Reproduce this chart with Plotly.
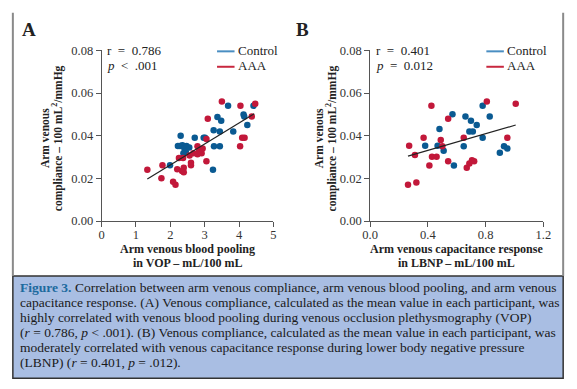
import plotly.graph_objects as go

# ---------------- data ----------------
# Panel A: arm venous blood pooling in VOP (mL/100 mL) vs compliance
a_control_x = [2.30, 2.71, 2.97, 3.01, 3.26, 3.44, 3.37, 3.48, 3.68, 4.42, 4.13, 4.15, 4.24,
               3.83, 2.22, 2.28, 2.35, 2.41, 2.47, 2.45, 2.38, 2.55, 3.27, 3.44, 1.99, 3.24]
a_control_y = [0.040, 0.039, 0.039, 0.039, 0.0425, 0.042, 0.0488, 0.047, 0.054, 0.054, 0.0499, 0.049, 0.045,
               0.042, 0.0352, 0.0352, 0.0355, 0.034, 0.0352, 0.0325, 0.0318, 0.0345, 0.035, 0.035, 0.0262, 0.024]
a_aaa_x = [1.33, 1.74, 1.77, 2.08, 2.15, 2.20, 2.39, 2.34, 2.39, 2.60, 2.60, 3.05, 3.05, 3.09, 3.50,
           4.04, 4.47, 4.37, 4.09, 4.16, 4.03, 2.79, 2.84, 2.91, 2.67, 2.56, 2.37, 2.25, 2.79, 2.94]
a_aaa_y = [0.024, 0.020, 0.0262, 0.0184, 0.017, 0.0243, 0.025, 0.0235, 0.0229, 0.0273, 0.0262, 0.028, 0.0385, 0.048, 0.056,
           0.054, 0.055, 0.049, 0.039, 0.039, 0.035, 0.035, 0.033, 0.0318, 0.0318, 0.0307, 0.0295, 0.0295, 0.0313, 0.034]
a_fit_x = [1.33, 4.44]
a_fit_y = [0.0197, 0.0503]

# Panel B: arm venous capacitance response in LBNP (mL/100 mL) vs compliance
b_control_x = [0.381, 0.467, 0.480, 0.509, 0.570, 0.580, 0.648, 0.660, 0.698, 0.687, 0.711, 0.738,
               0.779, 0.779, 0.828, 0.898, 0.927, 0.950]
b_control_y = [0.0353, 0.0353, 0.0431, 0.033, 0.050, 0.026, 0.0351, 0.049, 0.047, 0.042, 0.042, 0.045,
               0.039, 0.054, 0.049, 0.032, 0.035, 0.034]
b_aaa_x = [0.262, 0.320, 0.270, 0.310, 0.370, 0.410, 0.424, 0.428, 0.460, 0.489, 0.500, 0.540, 0.540,
           0.648, 0.669, 0.687, 0.705, 0.720, 0.808, 0.950, 1.008]
b_aaa_y = [0.017, 0.018, 0.0353, 0.031, 0.039, 0.026, 0.054, 0.0301, 0.0301, 0.038, 0.035, 0.028, 0.048,
           0.039, 0.025, 0.027, 0.0285, 0.028, 0.056, 0.039, 0.055]
b_fit_x = [0.262, 1.008]
b_fit_y = [0.0304, 0.0450]

y_ticks = [0.00, 0.02, 0.04, 0.06, 0.08]
a_x_ticks = [0, 1, 2, 3, 4, 5]
b_x_ticks = [0.0, 0.4, 0.8, 1.2]

stats_a = ["r&nbsp; =&nbsp; 0.786", "<i>p</i>&nbsp; <&nbsp; .001"]
stats_b = ["r&nbsp; =&nbsp; 0.401", "<i>p</i>&nbsp; =&nbsp; 0.012"]
legend_names = ["Control", "AAA"]

y_title_lines = ["Arm venous", "compliance – 100 mL<sup>2</sup>/mmHg"]
a_x_title_lines = ["Arm venous blood pooling", "in VOP – mL/100 mL"]
b_x_title_lines = ["Arm venous capacitance response", "in LBNP – mL/100 mL"]

caption_lines = [
    "<b><span style='color:#1d6a9e'>Figure 3.</span></b> Correlation between arm venous compliance, arm venous blood pooling, and arm venous",
    "capacitance response. (A) Venous compliance, calculated as the mean value in each participant, was",
    "highly correlated with venous blood pooling during venous occlusion plethysmography (VOP)",
    "(<i>r</i> = 0.786, <i>p</i> < .001). (B) Venous compliance, calculated as the mean value in each participant, was",
    "moderately correlated with venous capacitance response during lower body negative pressure",
    "(LBNP) (<i>r</i> = 0.401, <i>p</i> = .012).",
]

# ---------------- style ----------------
W, H = 577, 389
SERIF = "Liberation Serif"
BLUE = "#0a5a92"
RED = "#c2183a"
BLUE_L = "#4a8ec2"
RED_L = "#c8283f"
AXC = "#555555"

def px(x):
    return x / W

def py(y):
    return 1 - y / H

fig = go.Figure()

def add_panel(cx, cy, ax, ay, fx, fy, xa, ya):
    fig.add_trace(go.Scatter(x=cx, y=cy, mode="markers", xaxis=xa, yaxis=ya,
                             marker=dict(color=BLUE, size=6.5, line=dict(width=0)), showlegend=False))
    fig.add_trace(go.Scatter(x=ax, y=ay, mode="markers", xaxis=xa, yaxis=ya,
                             marker=dict(color=RED, size=6.5, line=dict(width=0)), showlegend=False))
    fig.add_trace(go.Scatter(x=fx, y=fy, mode="lines", xaxis=xa, yaxis=ya,
                             line=dict(color="#222222", width=1.2), showlegend=False))

add_panel(a_control_x, a_control_y, a_aaa_x, a_aaa_y, a_fit_x, a_fit_y, "x", "y")
add_panel(b_control_x, b_control_y, b_aaa_x, b_aaa_y, b_fit_x, b_fit_y, "x2", "y2")

axis_common = dict(showline=True, linecolor=AXC, linewidth=1, ticks="outside", ticklen=5,
                   tickcolor=AXC, tickwidth=1, showgrid=False, zeroline=False,
                   tickfont=dict(family=SERIF, size=12.5, color="#333333"))

ydom = [py(222), py(45)]
fig.update_layout(
    xaxis=dict(domain=[px(96.3), px(273)], range=[0, 5], tickvals=a_x_ticks, anchor="y",
               ticklabelstandoff=-3, **axis_common),
    yaxis=dict(domain=ydom, range=[0, 0.08], tickvals=y_ticks, tickformat=".2f", anchor="x", **axis_common),
    xaxis2=dict(domain=[px(372.5), px(550.7)], range=[0, 1.2], tickvals=b_x_ticks, tickformat=".1f",
                anchor="y2", ticklabelstandoff=-3, **axis_common),
    yaxis2=dict(domain=ydom, range=[0, 0.08], tickvals=y_ticks, tickformat=".2f", anchor="x2", **axis_common),
)

ann = []
shapes = []

def text(x, y, s, size=12, bold=False, xanchor="left", angle=0, color="#222222", yanchor="middle"):
    ann.append(dict(x=px(x), y=py(y), xref="paper", yref="paper", text=(f"<b>{s}</b>" if bold else s),
                    showarrow=False, xanchor=xanchor, yanchor=yanchor, textangle=angle,
                    font=dict(family=SERIF, size=size, color=color)))

# panel letters
text(12, 23, "A", size=19, bold=True)
text(294, 23, "B", size=19, bold=True)

# stats
for i, s in enumerate(stats_a):
    text(100, 45 + 16 * i, s, size=13)
for i, s in enumerate(stats_b):
    text(376, 45 + 16 * i, s, size=13)

# legends
for x0, x1, tx in [(215, 233, 234), (492, 510, 511)]:
    for i, (name, col) in enumerate(zip(legend_names, [BLUE_L, RED_L])):
        yy = 46 + 16 * i
        shapes.append(dict(type="line", xref="paper", yref="paper", x0=px(x0), x1=px(x1),
                           y0=py(yy), y1=py(yy), line=dict(color=col, width=2)))
        text(tx, yy - 1, name, size=13)

# axis titles
for cx in [38, 320]:
    for j, s in enumerate(y_title_lines):
        text(cx + 12.5 * j, 136, s, size=11.5, bold=True, xanchor="center", angle=-90)
for cx, lines in [(185, a_x_title_lines), (461.5, b_x_title_lines)]:
    for j, s in enumerate(lines):
        text(cx, 251.5 + 14 * j, s, size=12, bold=True, xanchor="center")

# frame lines
for xx in [5, 571]:
    shapes.append(dict(type="line", xref="paper", yref="paper", x0=px(xx), x1=px(xx), y0=py(6), y1=py(279),
                       line=dict(color="#8a8a8a", width=2)))
# caption box
shapes.append(dict(type="rect", xref="paper", yref="paper", x0=px(5), x1=px(571), y0=py(385), y1=py(279),
                   fillcolor="#a9bee3", line=dict(color="#333333", width=1.5), layer="below"))

for i, line in enumerate(caption_lines):
    text(10, 291 + 15.6 * i, line, size=13.5, color="#1a1a1a")

fig.update_layout(
    width=W, height=H, margin=dict(l=0, r=0, t=0, b=0),
    paper_bgcolor="white", plot_bgcolor="white",
    annotations=ann, shapes=shapes, showlegend=False,
)

fig.write_html("out.html", config={"displayModeBar": False},
               post_script="document.body.style.margin='0';document.body.style.overflow='hidden';")
